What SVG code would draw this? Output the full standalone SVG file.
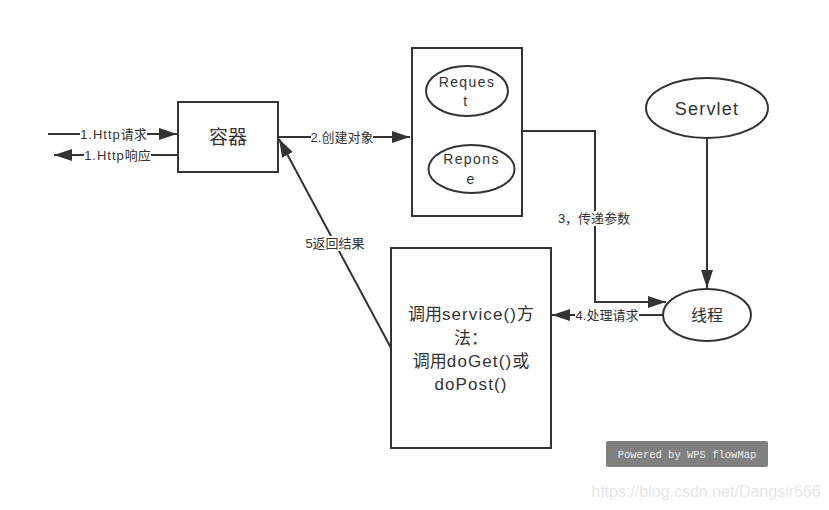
<svg xmlns="http://www.w3.org/2000/svg" width="829" height="510" viewBox="0 0 829 510">
<style>
text{font-family:"Liberation Sans","Noto Sans CJK SC",sans-serif;fill:#333;text-anchor:middle}
.n{fill:#fff;stroke:#333;stroke-width:2}
.c{fill:none;stroke:#333;stroke-width:2}
.l{font-size:13px}
.h{letter-spacing:1px}
.e{font-size:14px;letter-spacing:1.4px}
.b{font-size:17px}
.s{letter-spacing:1.100px}
.lb{fill:#fff;stroke:none}
</style>
<defs><marker id="a" markerUnits="userSpaceOnUse" markerWidth="20" markerHeight="14" refX="18" refY="6" orient="auto"><path d="M0 0L18 6L0 12Z" fill="#333"/></marker></defs>
<rect width="829" height="510" fill="#fff"/>
<g id="connectors">
<path class="c" d="M48 134H177" marker-end="url(#a)"/>
<path class="c" d="M177 155H54" marker-end="url(#a)"/>
<path class="c" d="M279 137H410" marker-end="url(#a)"/>
<path class="c" d="M523 131H595V302H666" marker-end="url(#a)"/>
<path class="c" d="M707 137V288" marker-end="url(#a)"/>
<path class="c" d="M663 315H552" marker-end="url(#a)"/>
<path class="c" d="M391 348L279 139" marker-end="url(#a)"/>
<rect class="lb" x="80" y="127" width="67" height="15"/><text class="l" x="113.500" y="139"><tspan class="h">1.Http</tspan>请求</text>
<rect class="lb" x="84" y="148" width="67" height="15"/><text class="l" x="117.500" y="160"><tspan class="h">1.Http</tspan>响应</text>
<rect class="lb" x="311" y="130" width="62" height="15"/><text class="l" x="342" y="142">2.创建对象</text>
<rect class="lb" x="557" y="211" width="73" height="15"/><text class="l" x="594" y="223">3，传递参数</text>
<rect class="lb" x="575" y="308" width="64" height="15"/><text class="l" x="607" y="320">4.处理请求</text>
<rect class="lb" x="305" y="236" width="59" height="15"/><text class="l" x="335" y="248">5返回结果</text>
</g>
<g id="n-container"><rect class="n" x="178" y="102" width="100" height="70"/><text x="228" y="144" font-size="19">容器</text></g>
<g id="n-objects"><rect class="n" x="412" y="48" width="110" height="168"/></g>
<g id="n-request"><ellipse class="n" cx="467" cy="91" rx="41" ry="25"/><text class="e" x="467" y="87">Reques</text><text class="e" x="466" y="106">t</text></g>
<g id="n-reponse"><ellipse class="n" cx="471.500" cy="169" rx="43" ry="24"/><text class="e" x="471.500" y="164">Repons</text><text class="e" x="471" y="184">e</text></g>
<g id="n-servlet"><ellipse class="n" cx="707" cy="108" rx="61" ry="30"/><text x="707" y="115" font-size="18" letter-spacing="1.200">Servlet</text></g>
<g id="n-thread"><ellipse class="n" cx="707" cy="315" rx="44" ry="26"/><text x="707" y="321" font-size="16">线程</text></g>
<g id="n-service"><rect class="n" x="391" y="248" width="160" height="200"/>
<text class="b" x="471" y="320">调用<tspan class="s">service()</tspan>方</text><text class="b" x="471" y="344">法：</text><text class="b" x="471" y="367">调用<tspan class="s">doGet()</tspan>或</text><text class="b" x="471" y="390"><tspan class="s">doPost()</tspan></text></g>
<g id="n-badge"><rect x="606" y="441" width="162" height="26" rx="2" fill="#808080"/><text x="687" y="457.500" font-size="10.500" style="font-family:'Liberation Mono',monospace;fill:#eee">Powered by WPS flowMap</text></g>
<text x="706" y="497" font-size="16" style="font-family:'Liberation Sans',sans-serif;fill:#e6e6e6">https://blog.csdn.net/Dangsir666</text>
</svg>
